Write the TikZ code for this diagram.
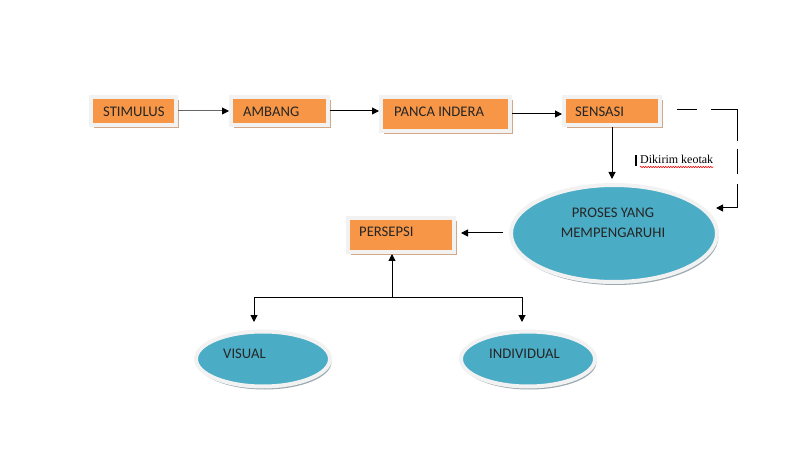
\documentclass[tikz,border=0pt]{standalone}
\usepackage{fontspec}
\setmainfont{Carlito}
\newfontfamily\serifx{Liberation Serif}
\usetikzlibrary{shapes.geometric,shadows,arrows.meta,decorations.pathmorphing,calc}
\definecolor{boxorange}{HTML}{F79646}
\definecolor{aqua}{HTML}{4BACC6}
\definecolor{rim}{HTML}{F2F2F2}
\definecolor{tanshadow}{HTML}{D2A888}
\definecolor{grayshadow}{HTML}{9AAAB0}
\begin{document}
\begin{tikzpicture}[x=1pt,y=-1pt,
 box/.style={rectangle,fill=boxorange,draw=rim,line width=4pt,inner sep=0pt,
   drop shadow={shadow xshift=3pt,shadow yshift=-3pt,fill=tanshadow,opacity=1}},
 oval/.style={ellipse,fill=aqua,draw=rim,line width=4pt,inner sep=0pt,
   drop shadow={shadow xshift=1.5pt,shadow yshift=-3pt,fill=grayshadow,opacity=1}},
 lbl/.style={font=\fontsize{14.67}{17}\selectfont,text=black!85,inner sep=0pt,anchor=west},
 arr/.style={-{Triangle[length=7pt,width=7pt]},line width=1pt,draw=black},
 seg/.style={line width=1pt,draw=black},
]
\useasboundingbox (0,0) rectangle (801,457);
% boxes
\node[box,minimum width=85pt,minimum height=28pt] (stim) at (133.5,111) {};
\node[lbl] (tstim) at (103,112) {STIMULUS};
\node[box,minimum width=97pt,minimum height=28pt] (amb) at (279.5,111) {};
\node[lbl] (tamb) at (243,112) {AMBANG};
\node[box,minimum width=129pt,minimum height=34pt] (panca) at (445.5,114) {};
\node[lbl] (tpanca) at (394,112) {PANCA INDERA};
\node[box,minimum width=96pt,minimum height=28pt] (sens) at (612,111) {};
\node[lbl] (tsens) at (575,112) {SENSASI};
\node[box,minimum width=106pt,minimum height=34pt] (pers) at (401,235) {};
\node[lbl] (tpers) at (359,232) {PERSEPSI};
% ellipses
\node[oval,minimum width=206pt,minimum height=97pt] (proc) at (614,233.5) {};
\node[lbl,anchor=center,align=center,font=\fontsize{14.67}{20}\selectfont] (tproc) at (613,223) {PROSES YANG\\MEMPENGARUHI};
\node[oval,minimum width=134pt,minimum height=55pt] (vis) at (263,359) {};
\node[lbl] (tvis) at (223,354) {VISUAL};
\node[oval,minimum width=134pt,minimum height=55pt] (ind) at (528,359) {};
\node[lbl] (tind) at (489,354) {INDIVIDUAL};
% connectors
\draw[arr,draw=black!60,-{Triangle[length=7pt,width=7pt,color=black]}] (stim.east) -- (amb.west);
\draw[arr] (amb.east) -- (amb.east -| panca.west);
\draw[arr] (panca.east) -- (panca.east -| sens.west);
\draw[arr,shorten >=4pt] (sens.south) -- (sens.south |- proc.north);
% long-dash connector from SENSASI side to the process ellipse
\coordinate (d1) at (677,110);
\coordinate (d1e) at (697,110);
\coordinate (d2s) at (711,110);
\coordinate (d2) at (737,110);
\coordinate (d2e) at (737,141);
\coordinate (d3s) at (737,149);
\coordinate (d3e) at (737,174);
\coordinate (d4s) at (737,184);
\coordinate (d4) at (737,208);
\coordinate (d5) at (716,208);
\draw[seg] (d1) -- (d1e);
\draw[seg] (d2s) -- (d2) -- (d2e);
\draw[seg] (d3s) -- (d3e);
\draw[arr] (d4s) -- (d4) -- (d5);
\draw[arr,shorten <=6pt,shorten >=5pt] (proc.west |- 0,233) -- (pers.east |- 0,233);
\coordinate (j) at (392,298);
\coordinate (jv) at (254,298);
\coordinate (ji) at (522,298);
\draw[arr] (j) -- (j |- pers.south);
\draw[arr,shorten >=7.5pt] (j) -- (jv) -- (jv |- vis.north);
\draw[arr,shorten >=7.5pt] (j) -- (ji) -- (ji |- ind.north);
% annotation
\draw[line width=1.4pt] (636,155.5) -- (636,166);
\node[font=\serifx\fontsize{12}{14}\selectfont,anchor=base west,inner sep=0pt] (dik) at (640,164) {Dikirim keotak};
\draw[red,line width=0.5pt,decorate,decoration={snake,amplitude=0.8pt,segment length=2.5pt}] ([yshift=-3pt]dik.base west) -- ([yshift=-3pt]dik.base east);
\end{tikzpicture}
\end{document}
